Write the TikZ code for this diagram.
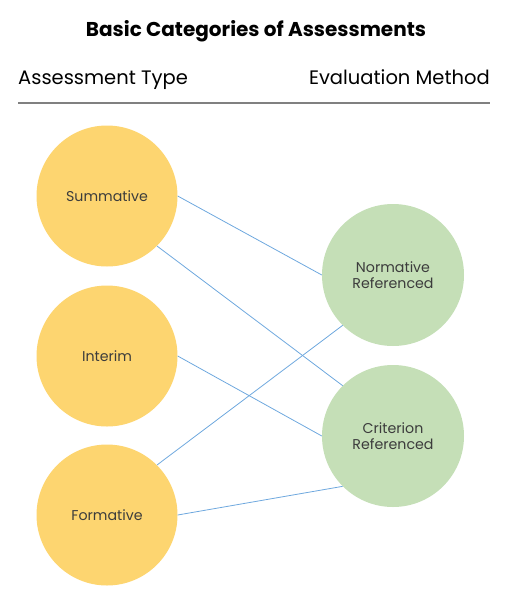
\documentclass[tikz,border=0pt]{standalone}
\usepackage{fontspec}
\setmainfont{Poppins}
\definecolor{assessfill}{RGB}{253,213,112}
\definecolor{methodfill}{RGB}{197,223,183}
\definecolor{linkblue}{RGB}{110,168,222}
\definecolor{labelgray}{RGB}{60,60,60}
\begin{document}
\begin{tikzpicture}[x=1pt,y=-1pt,
    assess/.style={circle,fill=assessfill,minimum size=141pt,inner sep=0pt,
        align=center,font=\fontsize{14.2}{16}\selectfont,text=labelgray},
    method/.style={circle,fill=methodfill,minimum size=142pt,inner sep=0pt,
        align=center,font=\fontsize{14.2}{16}\selectfont,text=labelgray},
    link/.style={draw=linkblue,line width=0.8pt}]
                \useasboundingbox (0,0) rectangle (512,600);
                \node[anchor=base,font=\fontsize{20}{24}\selectfont\bfseries] (title) at (256,36) {Basic Categories of Assessments};
                \node[anchor=base west,inner sep=0pt,font=\fontsize{19.5}{22}\selectfont] (typehead) at (18,84) {Assessment Type};
                \node[anchor=base east,inner sep=0pt,font=\fontsize{19.5}{22}\selectfont] (methodhead) at (490,84) {Evaluation Method};
                \coordinate (ruleL) at (18,103);
                \coordinate (ruleR) at (490,103);
                \draw[gray,line width=1.2pt] (ruleL) -- (ruleR);
                \node[assess] (sum) at (107,196) {Summative};
                \node[assess] (int) at (107,356) {Interim};
                \node[assess] (form) at (107,515) {Formative};
                \node[method] (norm) at (393,275) {Normative\\Referenced};
                \node[method] (crit) at (393,436) {Criterion\\Referenced};
                \draw[link] (sum.east) -- (norm.west);
                \draw[link] (sum.south east) -- (crit.north west);
                \draw[link] (int.east) -- (crit.west);
                \draw[link] (form.north east) -- (norm.south west);
                \draw[link] (form.east) -- (crit.south west);
            \end{tikzpicture}
\end{document}
